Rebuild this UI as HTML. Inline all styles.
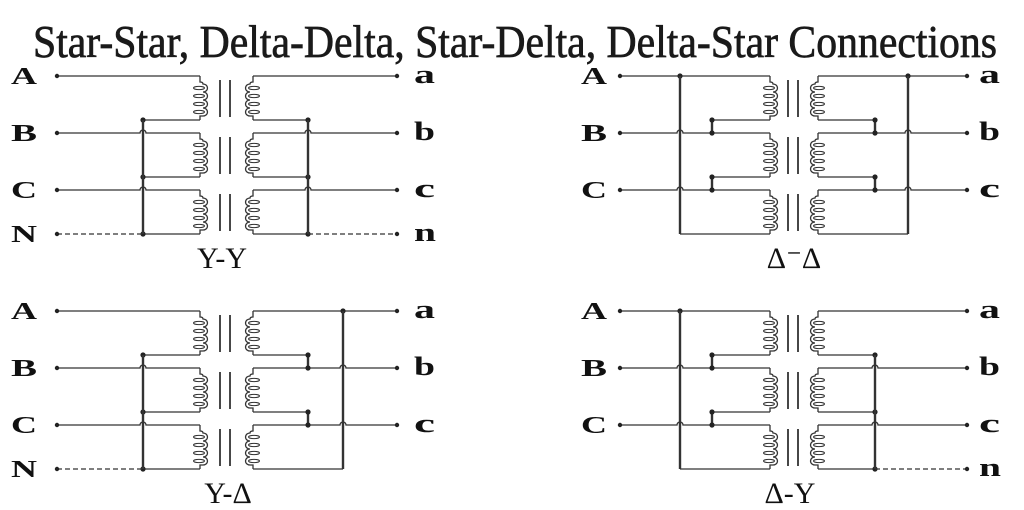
<!DOCTYPE html>
<html><head><meta charset="utf-8"><style>
html,body{margin:0;padding:0;background:#fff;}
svg{display:block;}
</style></head><body>
<svg id="s" width="1024" height="510" viewBox="0 0 1024 510" xmlns="http://www.w3.org/2000/svg">
<rect width="1024" height="510" fill="#fff"/>
<text x="33" y="57" font-family="Liberation Serif, serif" font-size="46" fill="#1a1a1a" stroke="#1a1a1a" stroke-width="0.7" textLength="964" lengthAdjust="spacingAndGlyphs">Star-Star, Delta-Delta, Star-Delta, Delta-Star Connections</text>
<g id="g" fill="none" stroke="#333" stroke-width="1.3"></g>
<g id="t" font-family="Liberation Serif, serif" fill="#111"></g>
</svg>
<script>
var g=document.getElementById('g'),t=document.getElementById('t'),NS='http://www.w3.org/2000/svg';
function el(p,a,par){var e=document.createElementNS(NS,p);for(var k in a)e.setAttribute(k,a[k]);(par||g).appendChild(e);return e;}
function H(x1,x2,y,hops,dash){hops=(hops||[]).slice().sort(function(a,b){return a-b});var lo=Math.min(x1,x2),hi=Math.max(x1,x2);var d='M'+lo+' '+y;hops.forEach(function(h){d+=' L'+(h-3)+' '+y+' A3 3 0 0 1 '+(h+3)+' '+y;});d+=' L'+hi+' '+y;var a={d:d};if(dash)a['stroke-dasharray']='5 3';el('path',a);}
function V(x,y1,y2,w){el('line',{x1:x,y1:y1,x2:x,y2:y2,'stroke-width':w||2.4});}
function dot(x,y,r){el('circle',{cx:x,cy:y,r:r||2.6,fill:'#222',stroke:'none'});}
function coil(x,y,dir){
  var d='M'+x+' '+y+' L'+x+' '+(y+6)+' Q'+(x+dir*3)+' '+(y+6)+' '+(x+dir*3)+' '+(y+8);
  var cy=y+8;
  for(var i=0;i<4;i++){d+=' A4.5 4 0 0 '+(dir>0?1:0)+' '+(x+dir*3)+' '+(cy+8);cy+=8;}
  d+=' Q'+(x+dir*3)+' '+(y+40)+' '+x+' '+(y+40)+' L'+x+' '+(y+44);
  el('path',{d:d});
  for(var j=0;j<4;j++){el('ellipse',{cx:x-dir*1,cy:y+12+j*8,rx:5.5,ry:1.6,'stroke-width':1});}
}
function panel(o){
  var r=[o.y,o.y+57,o.y+114],b=[o.y+44,o.y+101,o.y+158];
  var P=o.p,S=o.s;
  for(var i=0;i<3;i++){
    coil(P,r[i],1);coil(S,r[i],-1);
    el('line',{x1:o.c1,y1:r[i]+4,x2:o.c1,y2:r[i]+41,'stroke-width':1.8});
    el('line',{x1:o.c2,y1:r[i]+4,x2:o.c2,y2:r[i]+41,'stroke-width':1.8});
  }
  function side(cfg,term,cx){
    for(var i=0;i<3;i++){
      H(term,cx,r[i],i>0?[cfg.bus]:[]);
      dot(term,r[i],2.2);
    }
    if(cfg.t=='Y'){
      for(var i=0;i<3;i++){H(cfg.bus,cx,b[i]);dot(cfg.bus,b[i]);}
      V(cfg.bus,b[0],b[2]);
      H(term,cfg.bus,b[2],[],true);dot(term,b[2],2.2);
    } else {
      dot(cfg.bus,r[0]);
      for(var i=0;i<2;i++){H(cfg.link,cx,b[i]);V(cfg.link,b[i],r[i+1]);dot(cfg.link,b[i]);dot(cfg.link,r[i+1]);}
      H(cfg.bus,cx,b[2]);
      V(cfg.bus,r[0],b[2]);
    }
  }
  side(o.lc,o.lt,P);
  side(o.rc,o.rt,S);
  var names=['A','B','C'],rn=['a','b','c'];
  for(var i=0;i<3;i++){
    el('text',{x:o.lx,y:r[i]+8,'font-size':24,'font-weight':'bold',textLength:26,lengthAdjust:'spacingAndGlyphs'},t).textContent=names[i];
    el('text',{x:o.rx,y:r[i]+7,'font-size':26,'font-weight':'bold',textLength:21,lengthAdjust:'spacingAndGlyphs'},t).textContent=rn[i];
  }
  if(o.lc.t=='Y') el('text',{x:o.lx,y:b[2]+8,'font-size':24,'font-weight':'bold',textLength:26,lengthAdjust:'spacingAndGlyphs'},t).textContent='N';
  if(o.rc.t=='Y') el('text',{x:o.rx,y:b[2]+7,'font-size':26,'font-weight':'bold',textLength:22,lengthAdjust:'spacingAndGlyphs'},t).textContent='n';
  el('text',{x:o.tx,y:b[2]+34,'font-size':30,'text-anchor':'middle'},t).textContent=o.title;
}
panel({y:76,p:200,s:253,c1:220,c2:230,lt:57,rt:397,lx:11,rx:414,lc:{t:'Y',bus:143},rc:{t:'Y',bus:308},tx:222,title:'Y-Y'});
panel({y:76,p:770,s:818,c1:788,c2:798,lt:620,rt:967,lx:581,rx:979,lc:{t:'D',bus:680,link:712},rc:{t:'D',bus:908,link:875},tx:794,title:'Δ⁻Δ'});
panel({y:311,p:200,s:253,c1:220,c2:230,lt:57,rt:397,lx:11,rx:414,lc:{t:'Y',bus:143},rc:{t:'D',bus:343,link:308},tx:228,title:'Y-Δ'});
panel({y:311,p:770,s:818,c1:788,c2:798,lt:620,rt:967,lx:581,rx:979,lc:{t:'D',bus:680,link:712},rc:{t:'Y',bus:875},tx:790,title:'Δ-Y'});
</script>
</body></html>
